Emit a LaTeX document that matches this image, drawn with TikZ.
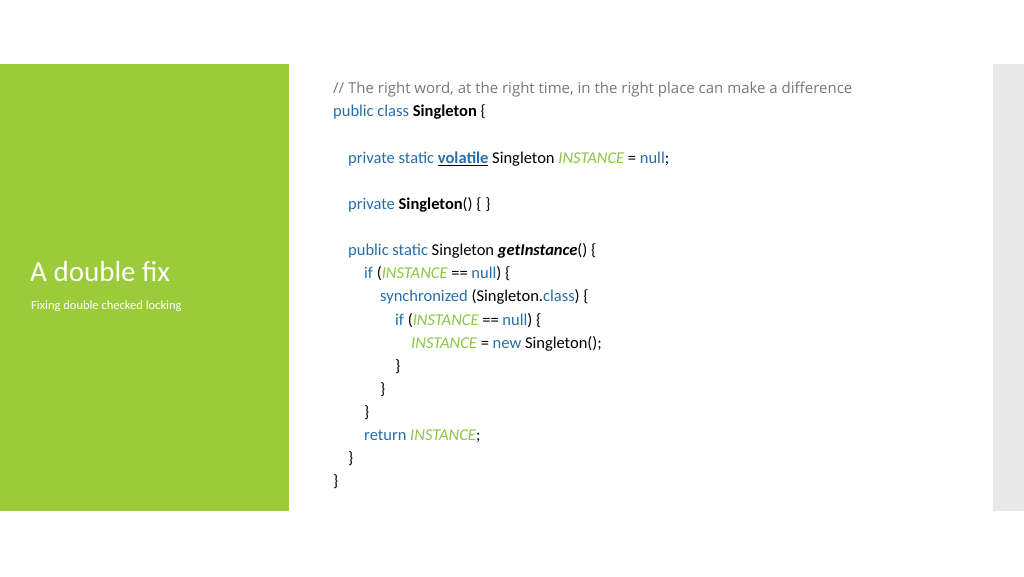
\documentclass[tikz,border=0pt]{standalone}
\usepackage{fontspec}
\setmainfont{Carlito}
\newfontfamily\cmtfont{Open Sans}
\definecolor{slidegreen}{RGB}{155,203,59}
\definecolor{kw}{RGB}{38,110,170}
\definecolor{inst}{RGB}{140,198,70}
\definecolor{cmt}{RGB}{120,120,120}
\definecolor{barg}{RGB}{232,232,232}
\newcommand{\K}[1]{\textcolor{kw}{#1}}
\newcommand{\I}[1]{\textcolor{inst}{\itshape #1}}
\begin{document}
\begin{tikzpicture}[x=1pt,y=1pt,
  code/.style={anchor=base west,inner sep=0pt,font=\fontsize{16.5}{20}\selectfont}]
\useasboundingbox (0,0) rectangle (1024,576);
\fill[white] (0,0) rectangle (1024,576);
\fill[slidegreen] (0,65) rectangle (289,512);
\fill[barg] (993,65) rectangle (1024,512);
\node[anchor=base west,inner sep=0pt,text=white,font=\fontsize{29}{34}\selectfont] (title) at (30,294) {A double fix};
\node[anchor=base west,inner sep=0pt,text=white,font=\fontsize{12.5}{15}\selectfont] (sub) at (31,266) {Fixing double checked locking};
\def\b#1{576-#1-6}
\node[code,text=cmt] (l1) at (333,{\b{88}}) {\cmtfont\fontsize{15}{18}\selectfont // The right word, at the right time, in the right place can make a difference};
\node[code] (l2) at (333,{\b{111}}) {\K{public class} \textbf{Singleton} \{};
\node[code] (l3) at (348,{\b{158}}) {\K{private static} \textbf{\underline{\K{volatile}}} Singleton \I{INSTANCE} = \K{null};};
\node[code] (l4) at (348,{\b{204}}) {\K{private} \textbf{Singleton}() \{ \}};
\node[code] (l5) at (348,{\b{250}}) {\K{public static} Singleton \textbf{\itshape getInstance}() \{};
\node[code] (l6) at (364,{\b{273}}) {\K{if} (\I{INSTANCE} == \K{null}) \{};
\node[code] (l7) at (380,{\b{296}}) {\K{synchronized} (Singleton.\K{class}) \{};
\node[code] (l8) at (395,{\b{319}}) {\K{if} (\I{INSTANCE} == \K{null}) \{};
\node[code] (l9) at (411,{\b{342}}) {\I{INSTANCE} = \K{new} Singleton();};
\node[code] (l10) at (395,{\b{365}}) {\}};
\node[code] (l11) at (380,{\b{388}}) {\}};
\node[code] (l12) at (364,{\b{411}}) {\}};
\node[code] (l13) at (364,{\b{434}}) {\K{return} \I{INSTANCE};};
\node[code] (l14) at (348,{\b{457}}) {\}};
\node[code] (l15) at (333,{\b{480}}) {\}};
\end{tikzpicture}
\end{document}
